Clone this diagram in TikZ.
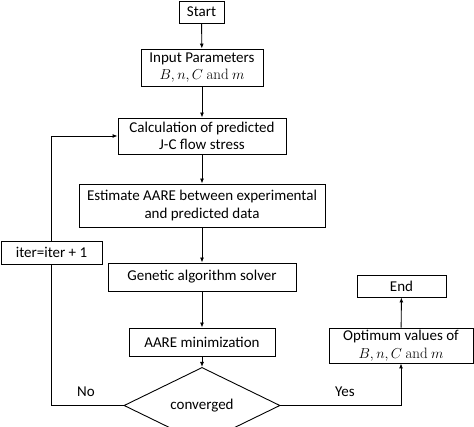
\documentclass[tikz,border=0pt]{standalone}
\usepackage{fontspec}
\setsansfont{Carlito}
\usetikzlibrary{shapes.geometric,arrows.meta}
\begin{document}
\begin{tikzpicture}[x=1pt,y=-1pt,
  box/.style={draw,line width=0.9pt,inner sep=0pt,align=center,
    font=\sffamily\fontsize{15}{17.5}\selectfont},
  lbl/.style={inner sep=0pt,font=\sffamily\fontsize{15}{17.5}\selectfont},
  conn/.style={line width=0.9pt},
  arr/.style={conn,-{Latex[length=5pt,width=4pt]}}]
\useasboundingbox (0,0) rectangle (474,427);
\node[box,minimum width=45pt,minimum height=22pt] (start) at (201.5,12) {Start};
\node[box,minimum width=122pt,minimum height=37pt] (input) at (202,67.5) {Input Parameters\\$B, n, C$ \textrm{and} $m$};
\node[box,minimum width=168pt,minimum height=36pt] (calc) at (202,136) {Calculation of predicted\\J-C flow stress};
\node[box,minimum width=246pt,minimum height=43pt] (est) at (202,205.5) {Estimate AARE between experimental\\and predicted data};
\node[box,minimum width=188pt,minimum height=28pt] (ga) at (202,277) {Genetic algorithm solver};
\node[box,minimum width=146pt,minimum height=28pt] (aare) at (202,342) {AARE minimization};
\node[draw,line width=0.9pt,diamond,inner sep=0pt,minimum width=156pt,minimum height=39pt,
  font=\sffamily\fontsize{15}{17.5}\selectfont] (conv) at (202,405.5) {converged};
\node[box,minimum width=101pt,minimum height=23pt] (iter) at (51.5,252.5) {iter=iter + 1};
\node[box,minimum width=144pt,minimum height=35pt] (opt) at (401,345.5) {Optimum values of\\$B, n, C$ \textrm{and} $m$};
\node[box,minimum width=89pt,minimum height=22pt] (end) at (401.5,286) {End};
\node[lbl] (no) at (86,392) {No};
\node[lbl] (yes) at (345,392) {Yes};
\draw[arr] (start) -- (input);
\draw[arr] (input) -- (calc);
\draw[arr] (calc) -- (est);
\draw[arr] (est) -- (ga);
\draw[arr] (ga) -- (aare);
\draw[arr] (aare) -- (conv);
\draw[conn] (conv.west) -| (iter.south);
\draw[arr] (iter.north) |- (calc.west);
\draw[arr] (conv.east) -| (opt.south);
\draw[arr] (opt) -- (end);
\end{tikzpicture}
\end{document}
